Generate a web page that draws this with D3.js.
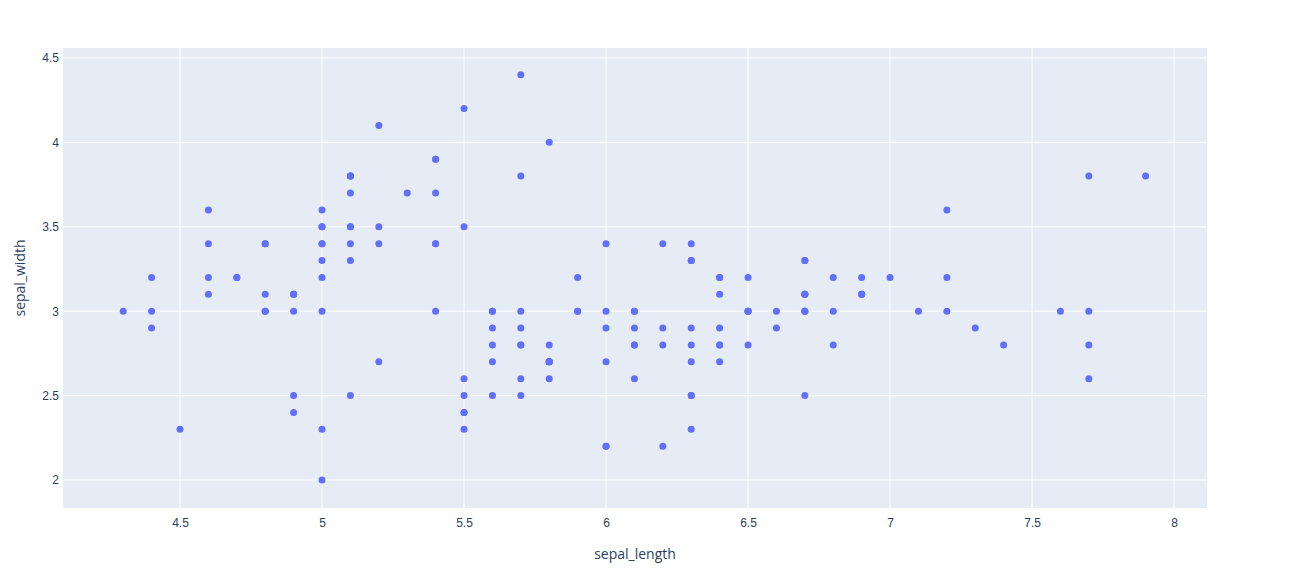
<!DOCTYPE html>
<html>
<head>
<meta charset="utf-8">
<script src="https://cdn.jsdelivr.net/npm/d3@7"></script>
<style>
  body { margin: 0; background: #fff; font-family: "Open Sans", sans-serif; }
  .tick text { fill: #2a3f5f; font-size: 12px; }
  .title { fill: #2a3f5f; font-size: 14px; }
</style>
</head>
<body>
<div id="viz"></div>
<script>
// iris: sepal_length / sepal_width
const sepalLength = [
  5.1,4.9,4.7,4.6,5.0,5.4,4.6,5.0,4.4,4.9,5.4,4.8,4.8,4.3,5.8,5.7,5.4,5.1,5.7,5.1,5.4,5.1,4.6,5.1,4.8,
  5.0,5.0,5.2,5.2,4.7,4.8,5.4,5.2,5.5,4.9,5.0,5.5,4.9,4.4,5.1,5.0,4.5,4.4,5.0,5.1,4.8,5.1,4.6,5.3,5.0,
  7.0,6.4,6.9,5.5,6.5,5.7,6.3,4.9,6.6,5.2,5.0,5.9,6.0,6.1,5.6,6.7,5.6,5.8,6.2,5.6,5.9,6.1,6.3,6.1,6.4,
  6.6,6.8,6.7,6.0,5.7,5.5,5.5,5.8,6.0,5.4,6.0,6.7,6.3,5.6,5.5,5.5,6.1,5.8,5.0,5.6,5.7,5.7,6.2,5.1,5.7,
  6.3,5.8,7.1,6.3,6.5,7.6,4.9,7.3,6.7,7.2,6.5,6.4,6.8,5.7,5.8,6.4,6.5,7.7,7.7,6.0,6.9,5.6,7.7,6.3,6.7,
  7.2,6.2,6.1,6.4,7.2,7.4,7.9,6.4,6.3,6.1,7.7,6.3,6.4,6.0,6.9,6.7,6.9,5.8,6.8,6.7,6.7,6.3,6.5,6.2,5.9
];
const sepalWidth = [
  3.5,3.0,3.2,3.1,3.6,3.9,3.4,3.4,2.9,3.1,3.7,3.4,3.0,3.0,4.0,4.4,3.9,3.5,3.8,3.8,3.4,3.7,3.6,3.3,3.4,
  3.0,3.4,3.5,3.4,3.2,3.1,3.4,4.1,4.2,3.1,3.2,3.5,3.1,3.0,3.4,3.5,2.3,3.2,3.5,3.8,3.0,3.8,3.2,3.7,3.3,
  3.2,3.2,3.1,2.3,2.8,2.8,3.3,2.4,2.9,2.7,2.0,3.0,2.2,2.9,2.9,3.1,3.0,2.7,2.2,2.5,3.2,2.8,2.5,2.8,2.9,
  3.0,2.8,3.0,2.9,2.6,2.4,2.4,2.7,2.7,3.0,3.4,3.1,2.3,3.0,2.5,2.6,3.0,2.6,2.3,2.7,3.0,2.9,2.9,2.5,2.8,
  3.3,2.7,3.0,2.9,3.0,3.0,2.5,2.9,2.5,3.6,3.2,2.7,3.0,2.5,2.8,3.2,3.0,3.8,2.6,2.2,3.2,2.8,2.8,2.7,3.3,
  3.2,2.8,3.0,2.8,3.0,2.8,3.8,2.8,2.8,2.6,3.0,3.4,3.1,3.0,3.1,3.1,3.1,2.7,3.2,3.3,3.0,2.5,3.0,3.4,3.0
];
const xTicks = [4.5, 5, 5.5, 6, 6.5, 7, 7.5, 8];
const yTicks = [2, 2.5, 3, 3.5, 4, 4.5];

const W = 1292, H = 585;
const plot = { left: 63, right: 1207, top: 48, bottom: 508 };

const svg = d3.select("#viz").append("svg").attr("width", W).attr("height", H);

const x = d3.scaleLinear().domain([4.088, 8.116]).range([plot.left, plot.right]);
const y = d3.scaleLinear().domain([1.834, 4.559]).range([plot.bottom, plot.top]);

svg.append("rect")
  .attr("x", plot.left).attr("y", plot.top)
  .attr("width", plot.right - plot.left).attr("height", plot.bottom - plot.top)
  .attr("fill", "#e5ecf6");

// gridlines
svg.append("g").selectAll("line").data(xTicks).enter().append("line")
  .attr("x1", d => x(d)).attr("x2", d => x(d))
  .attr("y1", plot.top).attr("y2", plot.bottom)
  .attr("stroke", "#fff").attr("stroke-width", 1);
svg.append("g").selectAll("line").data(yTicks).enter().append("line")
  .attr("y1", d => y(d)).attr("y2", d => y(d))
  .attr("x1", plot.left).attr("x2", plot.right)
  .attr("stroke", "#fff").attr("stroke-width", 1);

// axes
const xAxis = svg.append("g")
  .attr("transform", "translate(0," + plot.bottom + ")")
  .call(d3.axisBottom(x).tickValues(xTicks).tickSize(0).tickPadding(10).tickFormat(d3.format("")));
xAxis.select(".domain").remove();

const yAxis = svg.append("g")
  .attr("transform", "translate(" + plot.left + ",0)")
  .call(d3.axisLeft(y).tickValues(yTicks).tickSize(0).tickPadding(4).tickFormat(d3.format("")));
yAxis.select(".domain").remove();

svg.append("text").attr("class", "title")
  .attr("x", (plot.left + plot.right) / 2).attr("y", 559)
  .attr("text-anchor", "middle").text("sepal_length");
svg.append("text").attr("class", "title")
  .attr("transform", "translate(25," + (plot.top + plot.bottom) / 2 + ") rotate(-90)")
  .attr("text-anchor", "middle").text("sepal_width");

// points
svg.append("g").selectAll("circle")
  .data(sepalLength.map((d, i) => [d, sepalWidth[i]]))
  .enter().append("circle")
  .attr("cx", d => x(d[0])).attr("cy", d => y(d[1]))
  .attr("r", 3.5)
  .attr("fill", "#636efa");
</script>
</body>
</html>
